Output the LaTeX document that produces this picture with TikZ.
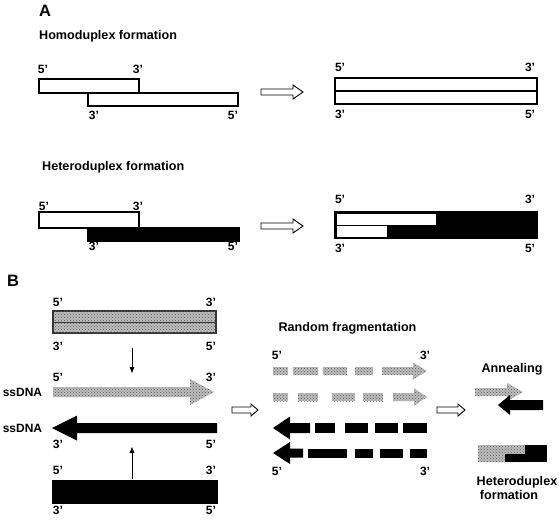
\documentclass[tikz,border=0pt]{standalone}
\usepackage{fontspec}
\setmainfont{Liberation Sans}
\usetikzlibrary{arrows.meta,patterns}
\newcommand{\pr}{\char"0027}
% arrow-shaped strand: style, tail x, tip x, centre y, body half, head half, head base x
\newcommand{\dnaArrow}[7]{%
  \fill[#1] (#2,#4-#5) -- (#7,#4-#5) -- (#7,#4-#6) -- (#3,#4) -- (#7,#4+#6) -- (#7,#4+#5) -- (#2,#4+#5) -- cycle;}
% segment of a fragmented strand: style, x0, x1, centre y, half height
\newcommand{\dnaSeg}[5]{\fill[#1] (#2,#4-#5) rectangle (#3,#4+#5);}
% hollow process arrow: tail x, tip x, centre y, shaft half, head half, head length
\newcommand{\hollowArrow}[6]{%
  \draw[line width=0.9pt, fill=white] (#1,#3-#4) -- (#2-#6,#3-#4) -- (#2-#6,#3-#5) -- (#2,#3) -- (#2-#6,#3+#5) -- (#2-#6,#3+#4) -- (#1,#3+#4) -- cycle;}
\begin{document}
\begin{tikzpicture}[x=1pt,y=-1pt,
  lab/.style={font=\bfseries\fontsize{12}{13}\selectfont, inner sep=0},
  ttl/.style={font=\bfseries\fontsize{12.6}{14}\selectfont, inner sep=0},
  panel/.style={font=\bfseries\fontsize{16.5}{18}\selectfont, inner sep=0},
  strand/.style={draw, line width=1.2pt, inner sep=0, rectangle},
  grayfill/.style={fill=gray!52, postaction={pattern=crosshatch dots, pattern color=gray!70!black}},
  blackfill/.style={fill=black},
  thinarrow/.style={line width=0.8pt, -{Triangle[length=6pt,width=4.5pt]}}]
\useasboundingbox (0,0) rectangle (559,520);
\fill[white] (0,0) rectangle (559,520);

% ---------------- Panel A ----------------
\node[panel] (pA) at (45,11) {A};
\node[ttl, anchor=west] (thomo) at (39,36) {Homoduplex formation};

\node[strand, fill=white, minimum width=150pt, minimum height=13pt] (hb) at (163,99.5) {};
\node[strand, fill=white, minimum width=100pt, minimum height=14pt] (ht) at (89,86) {};
\node[lab] (l1) at (43,69.5) {5\pr};
\node[lab] (l2) at (138,69.5) {3\pr};
\node[lab] (l3) at (94,115) {3\pr};
\node[lab] (l4) at (233,115) {5\pr};

\hollowArrow{261}{303}{92}{3}{7}{10}

\node[strand, fill=white, minimum width=202pt, minimum height=26pt] (hd) at (436,91) {};
\draw[line width=1.2pt] (hd.west) -- (hd.east);
\node[lab] (l5) at (340,67.5) {5\pr};
\node[lab] (l6) at (530,67.5) {3\pr};
\node[lab] (l7) at (340,114) {3\pr};
\node[lab] (l8) at (530,114) {5\pr};

\node[ttl, anchor=west] (thet) at (42,167) {Heteroduplex formation};
\node[strand, fill=white, minimum width=100pt, minimum height=16pt] (et) at (89,220) {};
\node[strand, fill=black, minimum width=151pt, minimum height=13pt] (eb) at (163.5,234.5) {};
\node[lab] (l9) at (44,206) {5\pr};
\node[lab] (l10) at (138,206) {3\pr};
\node[lab] (l11) at (94,246) {3\pr};
\node[lab] (l12) at (233,246) {5\pr};

\hollowArrow{261}{303}{226}{3}{7}{10}

\node[strand, fill=black, minimum width=202pt, minimum height=26pt] (ed) at (436,225) {};
\draw[line width=0.8pt, fill=white] (336,213) rectangle (436,225);
\draw[line width=0.8pt, fill=white] (336,225) rectangle (387,237);
\draw[line width=1.2pt] (ed.north west) rectangle (ed.south east);
\node[lab] (l13) at (340,199) {5\pr};
\node[lab] (l14) at (530,199) {3\pr};
\node[lab] (l15) at (340,248) {3\pr};
\node[lab] (l16) at (530,248) {5\pr};

% ---------------- Panel B ----------------
\node[panel] (pB) at (13,281) {B};

\node[strand, grayfill, draw=gray!40!black, minimum width=163pt, minimum height=22pt] (ds) at (134.5,322) {};
\draw[line width=1pt, gray!40!black] (ds.west) -- (ds.east);
\node[lab] (b1) at (58,302) {5\pr};
\node[lab] (b2) at (211,302) {3\pr};
\node[lab] (b3) at (58,346) {3\pr};
\node[lab] (b4) at (211,346) {5\pr};

% single strands
\coordinate (ssG) at (132,392);
\coordinate (ssK) at (132,428);
\dnaArrow{grayfill}{53}{214}{392}{5}{13}{190}
\dnaArrow{blackfill}{217}{52}{428}{5}{12.5}{77}
\node[lab] (s1) at (22.5,392) {ssDNA};
\node[lab] (s2) at (22.5,428) {ssDNA};
\node[lab] (b5) at (58,377) {5\pr};
\node[lab] (b6) at (211,377) {3\pr};
\node[lab] (b7) at (58,444) {3\pr};
\node[lab] (b8) at (211,444) {5\pr};

\node[strand, fill=black, minimum width=164pt, minimum height=22pt] (dk) at (135,492) {};
\node[lab] (b9) at (58,470) {5\pr};
\node[lab] (b10) at (211,470) {3\pr};
\node[lab] (b11) at (58,510) {3\pr};
\node[lab] (b12) at (211,510) {5\pr};

\draw[thinarrow, shorten <=14pt, shorten >=19pt] ([xshift=-2.5pt]ds.south) -- (ssG);
\draw[thinarrow, shorten <=1pt, shorten >=19pt] ([xshift=-3pt]dk.north) -- (ssK);

\hollowArrow{232}{258}{410}{3}{6}{7}

% random fragmentation
\node[ttl] (tfrag) at (347.5,328) {Random fragmentation};
\node[lab] (f1) at (277,355) {5\pr};
\node[lab] (f2) at (425,355) {3\pr};
\node[lab] (f3) at (277,471) {5\pr};
\node[lab] (f4) at (425,471) {3\pr};

\dnaSeg{grayfill}{273}{288}{371}{4}
\dnaSeg{grayfill}{293}{318}{371}{4}
\dnaSeg{grayfill}{323}{347}{371}{4}
\dnaSeg{grayfill}{355}{373}{371}{4}
\dnaArrow{grayfill}{382}{427}{371}{4}{8.5}{413}

\dnaSeg{grayfill}{273}{288}{397}{4}
\dnaSeg{grayfill}{298}{318}{397}{4}
\dnaSeg{grayfill}{332}{355}{397}{4}
\dnaSeg{grayfill}{363}{383}{397}{4}
\dnaArrow{grayfill}{393}{427}{397}{4}{8.5}{414}

\dnaArrow{blackfill}{310}{273}{428}{5}{11.5}{290}
\dnaSeg{blackfill}{315}{335}{428}{5}
\dnaSeg{blackfill}{345}{368}{428}{5}
\dnaSeg{blackfill}{375}{398}{428}{5}
\dnaSeg{blackfill}{403}{427}{428}{5}

\dnaArrow{blackfill}{303}{273}{453}{4.5}{11}{290}
\dnaSeg{blackfill}{308}{347}{453}{4.5}
\dnaSeg{blackfill}{355}{373}{453}{4.5}
\dnaSeg{blackfill}{380}{403}{453}{4.5}
\dnaSeg{blackfill}{410}{427}{453}{4.5}

\hollowArrow{437}{465}{410}{3}{6}{7}

% annealing
\node[ttl] (tann) at (512,369) {Annealing};
\dnaArrow{grayfill}{475}{523}{392}{4}{9}{507}
\dnaArrow{blackfill}{543}{498}{405}{5}{10}{510}

\fill[grayfill] (478,445) rectangle (525,462);
\fill[black] (525,445) rectangle (547,454);
\fill[black] (505,454) rectangle (547,462);
\node[ttl] (th1) at (517,482) {Heteroduplex};
\node[ttl] (th2) at (509,495) {formation};
\end{tikzpicture}
\end{document}
